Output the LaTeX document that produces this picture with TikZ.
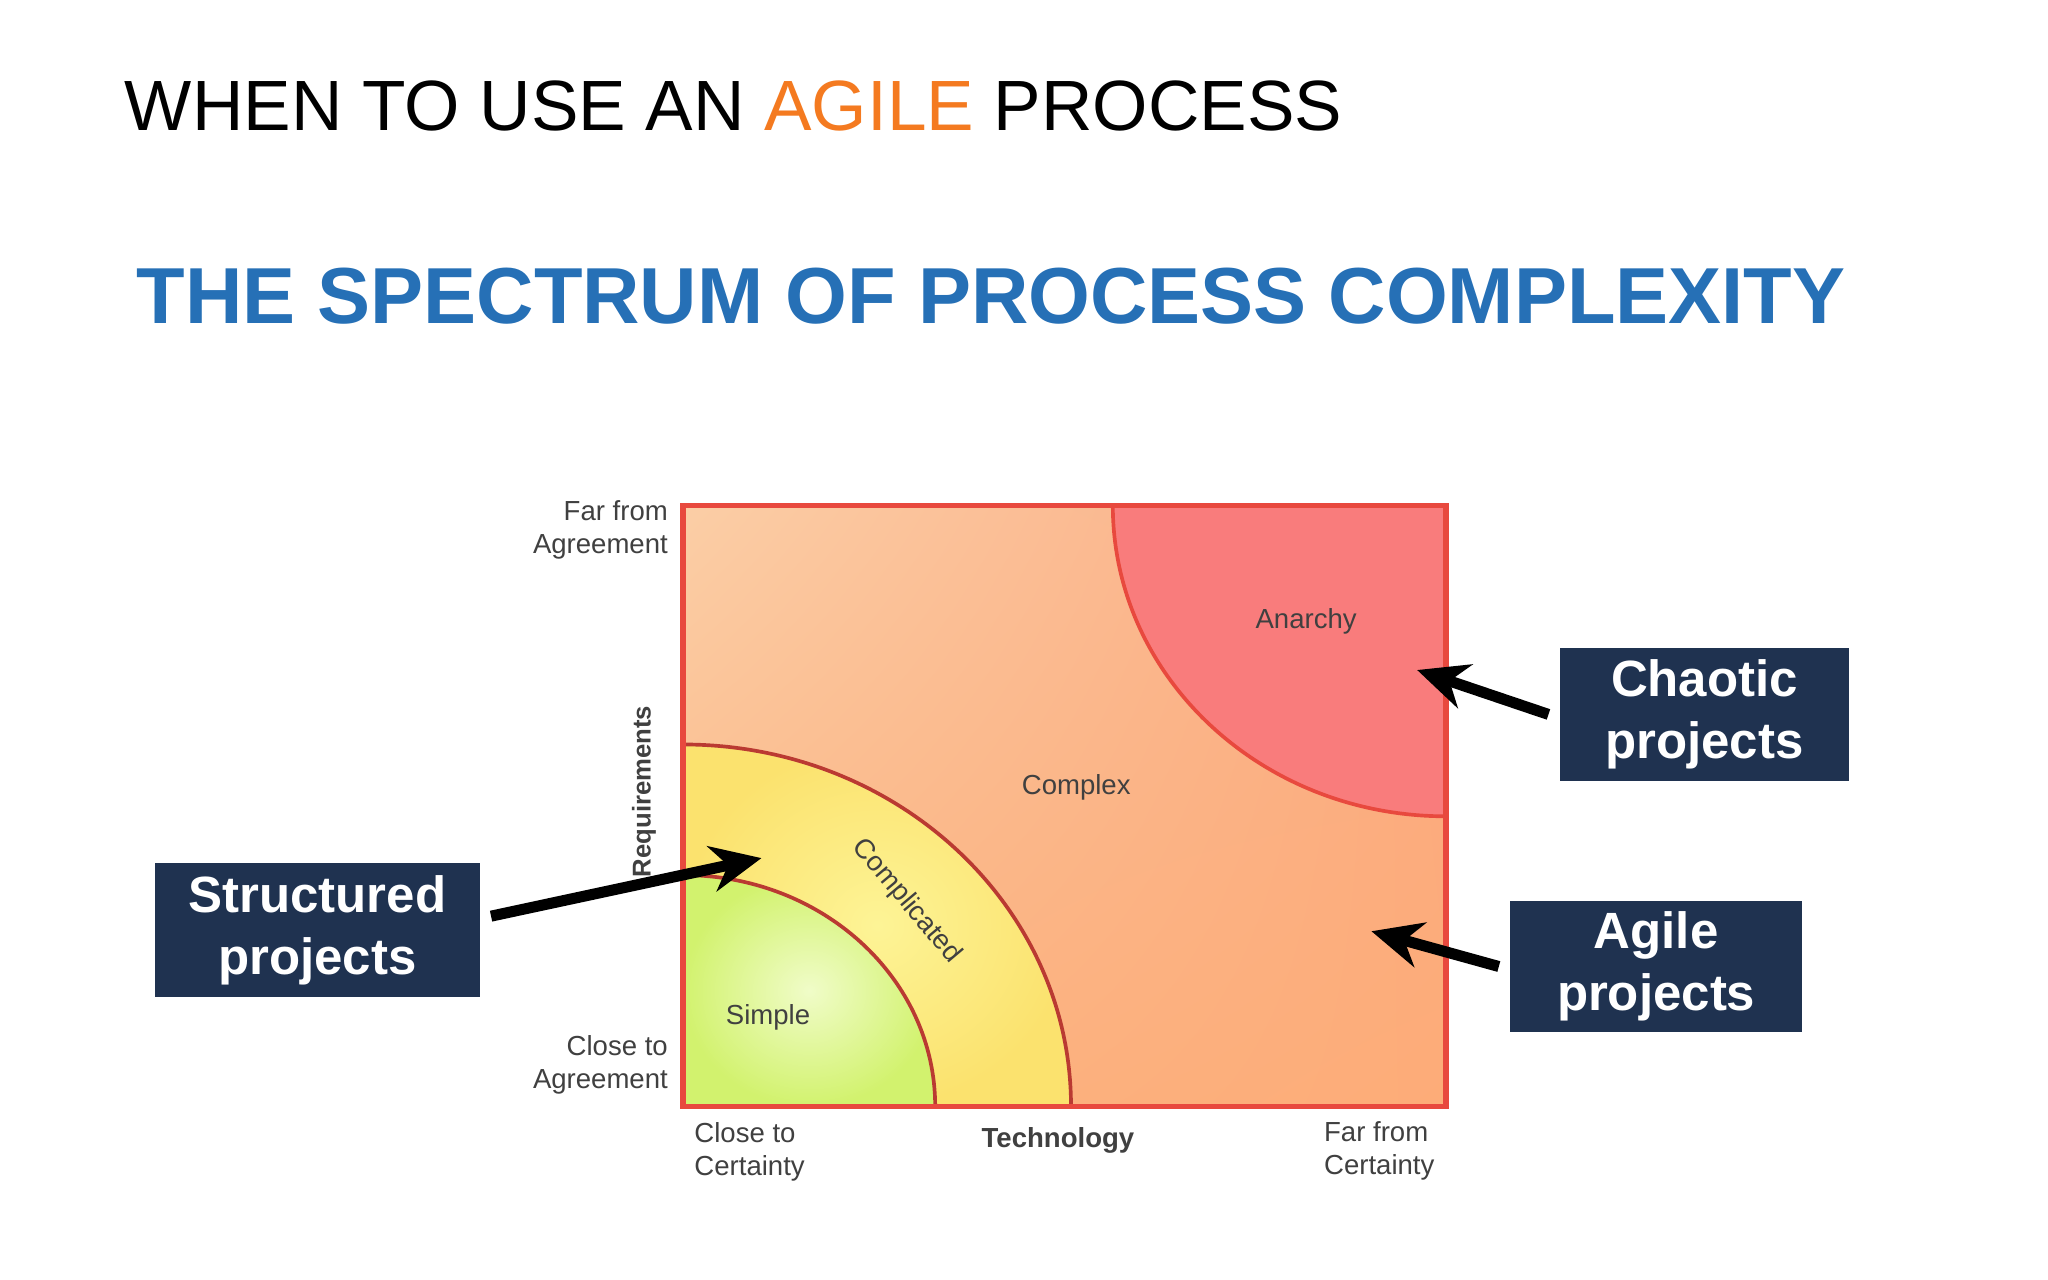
\documentclass[tikz,border=0pt]{standalone}
\usepackage{fontspec}
\setmainfont{Liberation Sans}
\usetikzlibrary{arrows.meta,shadows,shadings}
\definecolor{agileorange}{HTML}{F47A20}
\definecolor{titleblue}{HTML}{2670B6}
\definecolor{navy}{HTML}{1F3250}
\definecolor{boxred}{HTML}{E8493E}
\definecolor{bgul}{HTML}{FBCEA6}
\definecolor{bgur}{HTML}{FAAA82}
\definecolor{bgll}{HTML}{FBB482}
\definecolor{bglr}{HTML}{FDAC78}
\definecolor{anarchyc}{HTML}{F97C7C}
\definecolor{yelin}{HTML}{FDF496}
\definecolor{yelout}{HTML}{FBE26E}
\definecolor{grin}{HTML}{F0FCC8}
\definecolor{grout}{HTML}{D2F26E}
\tikzset{
  callout/.style={fill=navy,draw=white,line width=2.5pt,text=white,font=\fontsize{11.1}{13.5}\selectfont\bfseries,align=center,inner sep=0pt,drop shadow={shadow xshift=1.2pt,shadow yshift=-1.2pt,fill=black!25}},
  axlab/.style={font=\fontsize{6}{7.2}\selectfont,text=black!75,inner sep=0pt},
  zonelab/.style={font=\fontsize{6}{7.2}\selectfont,text=black!75,inner sep=0pt},
  bigarrow/.style={line width=2.4pt,-{Stealth[length=11pt,width=10pt]}}
}
\begin{document}
\begin{tikzpicture}[x=0.01cm,y=-0.01cm]
\useasboundingbox[fill=white] (0,0) rectangle (1568,980);
\node[anchor=base west,inner sep=0pt,font=\fontsize{15.5}{18}\selectfont] (t1) at (95,100) {WHEN TO USE AN \textcolor{agileorange}{AGILE} PROCESS};
\node[anchor=base west,inner sep=0pt,font=\fontsize{17.3}{20}\selectfont\bfseries,text=titleblue] (t2) at (104,248) {THE SPECTRUM OF PROCESS COMPLEXITY};
% chart
\shade[upper left=bgul,upper right=bgur,lower left=bgll,lower right=bglr] (523,387) rectangle (1107,847);
\fill[anarchyc] (852,387) arc[start angle=180,end angle=270,x radius=255,y radius=-238] -- (1107,387) -- cycle;
\shade[inner color=yelin,outer color=yelout] (523,570) arc[start angle=90,end angle=0,x radius=297,y radius=-277] -- (523,847) -- cycle;
\shade[inner color=grin,outer color=grout] (523,670) arc[start angle=90,end angle=0,x radius=193,y radius=-177] -- (523,847) -- cycle;
\draw[boxred,line width=0.8pt] (852,387) arc[start angle=180,end angle=270,x radius=255,y radius=-238];
\draw[boxred!80!black,line width=0.8pt] (523,570) arc[start angle=90,end angle=0,x radius=297,y radius=-277];
\draw[boxred!80!black,line width=0.8pt] (523,670) arc[start angle=90,end angle=0,x radius=193,y radius=-177];
\node[draw=boxred,line width=1.2pt,minimum width=5.84cm,minimum height=4.6cm,inner sep=0pt] (chart) at (815,617) {};
\node[zonelab] (anarchy) at (1000,476) {Anarchy};
\node[zonelab] (complex) at (824,603) {Complex};
\node[zonelab,rotate=-50] (complicated) at (694,690) {Complicated};
\node[zonelab] (simple) at (588,779) {Simple};
\node[axlab,anchor=east,align=right] (farag) at (512,406) {Far from\\Agreement};
\node[axlab,anchor=east,align=right] (closeag) at (512,815) {Close to\\Agreement};
\node[axlab,rotate=90,font=\fontsize{5.6}{7}\selectfont\bfseries] (req) at (493,606) {Requirements};
\node[axlab,anchor=west,align=left] (closecert) at (531,882) {Close to\\Certainty};
\node[axlab,font=\fontsize{6}{7}\selectfont\bfseries] (tech) at (810,873) {Technology};
\node[axlab,align=left] (farcert) at (1056,881) {Far from\\Certainty};
% callouts
\node[callout,minimum width=2.3cm,minimum height=1.1cm] (chaotic) at (1305,547) {Chaotic\\projects};
\node[callout,minimum width=2.32cm,minimum height=1.09cm] (agile) at (1268,740) {Agile\\projects};
\node[callout,minimum width=2.57cm,minimum height=1.11cm] (struct) at (243,712) {Structured\\projects};
\coordinate (ca) at (1085,513);
\coordinate (aa) at (1050,713);
\coordinate (sa) at (583,657);
\draw[bigarrow] (chaotic.west) -- (ca);
\draw[bigarrow] (agile.west) -- (aa);
\draw[bigarrow] ([yshift=3pt]struct.east) -- (sa);
\end{tikzpicture}
\end{document}
